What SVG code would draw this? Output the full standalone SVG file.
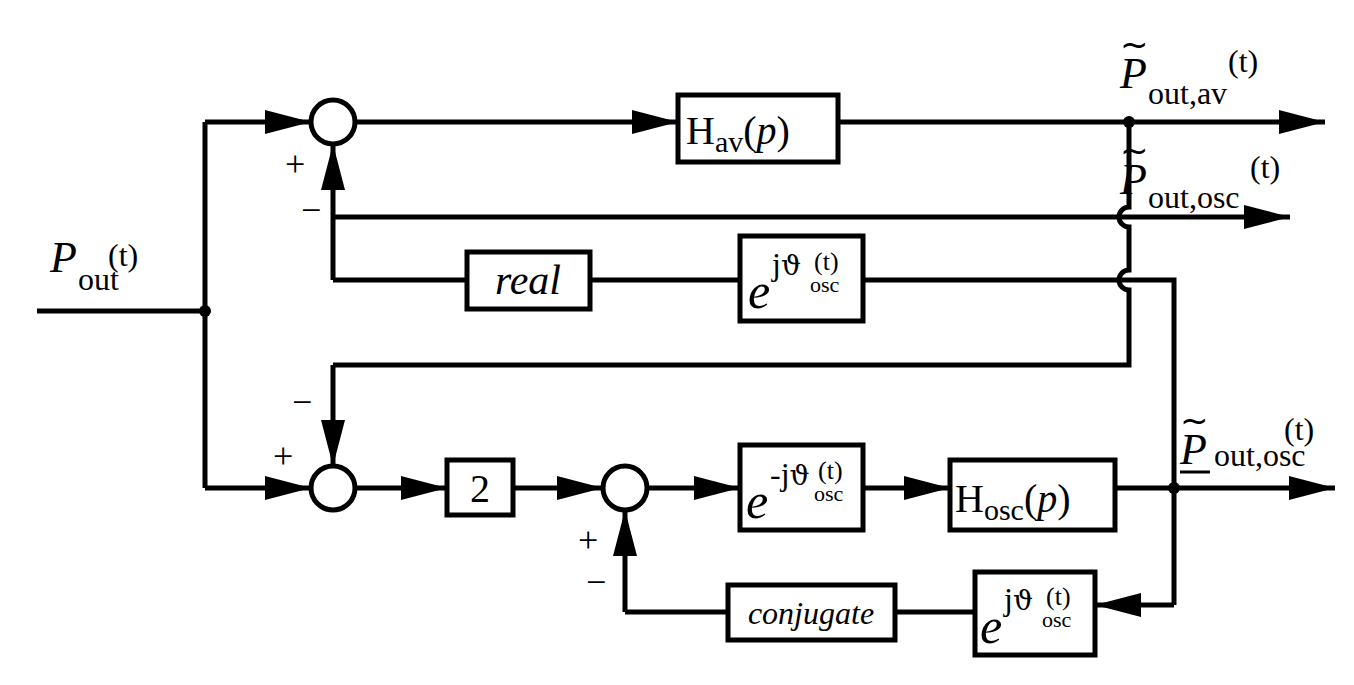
<svg xmlns="http://www.w3.org/2000/svg" width="1354" height="685" viewBox="0 0 1354 685">
<defs>
<marker id="a" markerWidth="46" markerHeight="24" refX="46" refY="12" orient="auto" markerUnits="userSpaceOnUse"><path d="M0,0 L46,12 L0,24 Z" fill="#000"/></marker>
<style>
.w{fill:none;stroke:#000;stroke-width:5}
.b{fill:#fff;stroke:#000;stroke-width:5}
text{font-family:"Liberation Serif","Times New Roman",serif;fill:#000}
.tl{font-family:"DejaVu Sans",sans-serif;font-size:34px}
</style>
</defs>
<rect width="1354" height="685" fill="#fff"/>
<g id="connectors" class="w">
<path d="M37,311 H205"/>
<path d="M205,122 V488"/>
<path d="M205,122 H311" marker-end="url(#a)"/>
<path d="M355,122 H678" marker-end="url(#a)"/>
<path d="M838,122 H1325" marker-end="url(#a)"/>
<path d="M333,217 H1290" marker-end="url(#a)"/>
<path d="M333,280 V144" marker-end="url(#a)"/>
<path d="M333,280 H467 M590,280 H740 M863,280 H1174 V605"/>
<path d="M1174,605 H1095" marker-end="url(#a)"/>
<path d="M1129,122 V207 A10,10 0 0 0 1129,227 V270 A10,10 0 0 0 1129,290 V365 H333"/>
<path d="M333,365 V466" marker-end="url(#a)"/>
<path d="M205,488 H311" marker-end="url(#a)"/>
<path d="M355,488 H447" marker-end="url(#a)"/>
<path d="M513,488 H603" marker-end="url(#a)"/>
<path d="M647,488 H740" marker-end="url(#a)"/>
<path d="M863,488 H950" marker-end="url(#a)"/>
<path d="M1115,488 H1335" marker-end="url(#a)"/>
<path d="M975,612 H895 M728,612 H625"/>
<path d="M625,612 V510" marker-end="url(#a)"/>
<circle cx="205" cy="311" r="6" fill="#000" stroke="none"/>
<circle cx="1129" cy="122" r="6" fill="#000" stroke="none"/>
<circle cx="1174" cy="488" r="6" fill="#000" stroke="none"/>
</g>
<g id="sum1"><circle class="b" cx="333" cy="122" r="22"/></g>
<g id="sum2"><circle class="b" cx="333" cy="488" r="22"/></g>
<g id="sum3"><circle class="b" cx="625" cy="488" r="22"/></g>
<g id="hav"><rect class="b" x="678" y="95" width="160" height="67"/><text x="686" y="144" font-size="40">H<tspan font-size="30" dy="8">av</tspan><tspan dy="-8">(</tspan><tspan font-style="italic">p</tspan>)</text></g>
<g id="real"><rect class="b" x="467" y="252" width="123" height="57"/><text x="528" y="294" font-size="42" font-style="italic" text-anchor="middle">real</text></g>
<g id="ejt1"><rect class="b" x="740" y="236" width="123" height="85"/><text x="748" y="308" font-size="50" font-style="italic">e</text><text x="772" y="275" font-size="32">j<tspan font-family="DejaVu Serif,serif" font-size="28">ϑ</tspan></text><text x="810" y="292" font-size="22">osc</text><text x="814" y="270" font-size="26">(t)</text></g>
<g id="two"><rect class="b" x="447" y="460" width="66" height="55"/><text x="480" y="502" font-size="40" text-anchor="middle">2</text></g>
<g id="emjt"><rect class="b" x="740" y="445" width="123" height="85"/><text x="746" y="518" font-size="50" font-style="italic">e</text><text x="770" y="485" font-size="32">-j<tspan font-family="DejaVu Serif,serif" font-size="28">ϑ</tspan></text><text x="814" y="501" font-size="22">osc</text><text x="818" y="479" font-size="26">(t)</text></g>
<g id="hosc"><rect class="b" x="950" y="460" width="165" height="70"/><text x="955" y="512" font-size="40">H<tspan font-size="30" dy="8">osc</tspan><tspan dy="-8">(</tspan><tspan font-style="italic">p</tspan>)</text></g>
<g id="ejt2"><rect class="b" x="975" y="572" width="120" height="83"/><text x="980" y="643" font-size="50" font-style="italic">e</text><text x="1004" y="610" font-size="32">j<tspan font-family="DejaVu Serif,serif" font-size="28">ϑ</tspan></text><text x="1042" y="627" font-size="22">osc</text><text x="1046" y="605" font-size="26">(t)</text></g>
<g id="conj"><rect class="b" x="728" y="585" width="167" height="55"/><text x="811" y="624" font-size="32" font-style="italic" text-anchor="middle">conjugate</text></g>
<g id="labels">
<text x="50" y="272" font-size="44" font-style="italic">P</text><text x="78" y="290" font-size="32">out</text><text x="108" y="266" font-size="32">(t)</text>
<text x="1120" y="88" font-size="44" font-style="italic">P</text><text class="tl" x="1120" y="56">~</text><text x="1148" y="104" font-size="32">out,av</text><text x="1228" y="72" font-size="32">(t)</text>
<text x="1120" y="194" font-size="44" font-style="italic">P</text><text class="tl" x="1120" y="162">~</text><text x="1148" y="208" font-size="32">out,osc</text><text x="1250" y="178" font-size="32">(t)</text>
<text x="1180" y="464" font-size="44" font-style="italic">P</text><text class="tl" x="1180" y="432">~</text><line x1="1180" y1="472" x2="1210" y2="472" stroke="#000" stroke-width="3"/><text x="1214" y="466" font-size="32">out,osc</text><text x="1284" y="440" font-size="32">(t)</text>
<text x="285" y="176" font-size="36">+</text><text x="301" y="222" font-size="36">−</text>
<text x="292" y="414" font-size="36">−</text><text x="273" y="468" font-size="36">+</text>
<text x="578" y="552" font-size="36">+</text><text x="586" y="594" font-size="36">−</text>
</g>
</svg>
